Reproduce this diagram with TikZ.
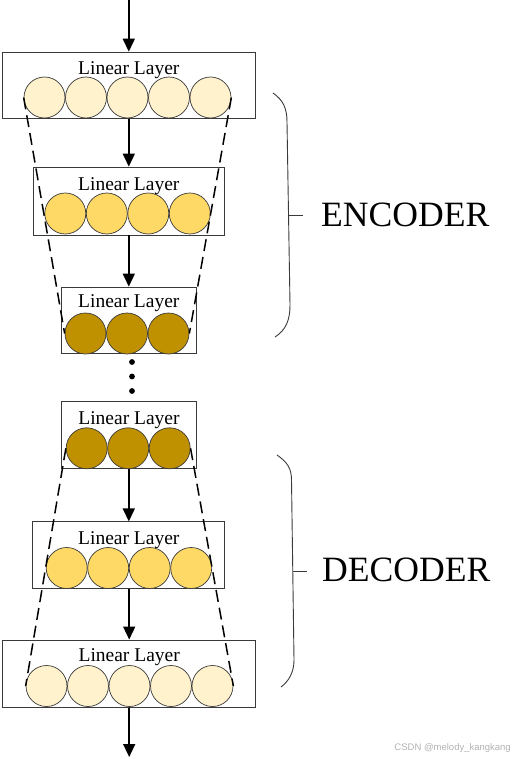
\documentclass[tikz,border=0pt]{standalone}
\usepackage{fontspec}
\setmainfont{Liberation Serif}
\newfontfamily\marksans{Liberation Sans}
\usetikzlibrary{positioning, arrows.meta, calc}

\definecolor{lightgold}{HTML}{FFF2CC}
\definecolor{midgold}{HTML}{FFD966}
\definecolor{darkgold}{HTML}{BF9000}
\definecolor{edgegray}{HTML}{3A3A3A}

\begin{document}
\begin{tikzpicture}[x=1pt, y=-1pt, node distance=41.5pt]
            % Define node styles
            \tikzstyle{layer} = [rectangle, draw=edgegray, line width=0.8pt, inner sep=0pt]
            \tikzstyle{light} = [circle, draw=edgegray, line width=0.7pt, minimum size=41pt, inner sep=0pt, fill=lightgold]
            \tikzstyle{mid} = [circle, draw=edgegray, line width=0.7pt, minimum size=41pt, inner sep=0pt, fill=midgold]
            \tikzstyle{dark} = [circle, draw=edgegray, line width=0.7pt, minimum size=41pt, inner sep=0pt, fill=darkgold]
            \tikzstyle{title} = [anchor=base, inner sep=0pt, font=\fontsize{19.5}{22}\selectfont]
            \tikzstyle{flow} = [-{Triangle[length=13pt, width=12pt]}, line width=1.6pt]
            \tikzstyle{trap} = [line width=1.5pt, dash pattern=on 12pt off 6pt]
            \tikzstyle{brace} = [edgegray, line width=0.9pt]

            \useasboundingbox (0,0) rectangle (515,759);

            % Layer boxes (encoder on top, decoder below)
            \node[layer, minimum width=253pt, minimum height=66.5pt] (box1) at (128.8,85.3) {};
            \node[layer, minimum width=191pt, minimum height=68pt] (box2) at (128.8,201) {};
            \node[layer, minimum width=135pt, minimum height=66pt] (box3) at (128.8,320) {};
            \node[layer, minimum width=135pt, minimum height=67pt] (box4) at (129,435.3) {};
            \node[layer, minimum width=192pt, minimum height=67pt] (box5) at (128.8,555.3) {};
            \node[layer, minimum width=253pt, minimum height=67.7pt] (box6) at (129.2,673.8) {};

            % Labels inside the boxes
            \node[title] (t1) at ([yshift=-23pt]box1.north) {Linear Layer};
            \node[title] (t2) at ([yshift=-24pt]box2.north) {Linear Layer};
            \node[title] (t3) at ([yshift=-21pt]box3.north) {Linear Layer};
            \node[title] (t4) at ([yshift=-23pt]box4.north) {Linear Layer};
            \node[title] (t5) at ([yshift=-23pt]box5.north) {Linear Layer};
            \node[title] (t6) at ([yshift=-22pt]box6.north) {Linear Layer};

            % Neurons of box 1 (light)
            \node[light] (a1) at (44.5,97.5) {};
            \node[light] (a2) [right of=a1] {};
            \node[light] (a3) [right of=a2] {};
            \node[light] (a4) [right of=a3] {};
            \node[light] (a5) [right of=a4] {};

            % Neurons of box 2 (mid)
            \node[mid] (b1) at (65.3,213.5) {};
            \node[mid] (b2) [right of=b1] {};
            \node[mid] (b3) [right of=b2] {};
            \node[mid] (b4) [right of=b3] {};

            % Neurons of box 3 (dark)
            \node[dark] (c1) at (85.5,333.5) {};
            \node[dark] (c2) [right of=c1] {};
            \node[dark] (c3) [right of=c2] {};

            % Neurons of box 4 (dark)
            \node[dark] (d1) at (86.7,448.3) {};
            \node[dark] (d2) [right of=d1] {};
            \node[dark] (d3) [right of=d2] {};

            % Neurons of box 5 (mid)
            \node[mid] (e1) at (66.7,568) {};
            \node[mid] (e2) [right of=e1] {};
            \node[mid] (e3) [right of=e2] {};
            \node[mid] (e4) [right of=e3] {};

            % Neurons of box 6 (light)
            \node[light] (f1) at (46.5,686) {};
            \node[light] (f2) [right of=f1] {};
            \node[light] (f3) [right of=f2] {};
            \node[light] (f4) [right of=f3] {};
            \node[light] (f5) [right of=f4] {};

            % Data flow
            \coordinate (in) at (128.8,0);
            \coordinate (out) at (129.2,757);
            \draw[flow] (in) -- (box1.north);
            \draw[flow] (box1.south -| box2.north) -- (box2.north);
            \draw[flow] (box2.south -| box3.north) -- (box3.north);
            \draw[flow] (box4.south -| box5.north) -- (box5.north);
            \draw[flow] (box5.south -| box6.north) -- (box6.north);
            \draw[flow] (box6.south) -- (out);

            % Dots between encoder and decoder
            \node[circle, fill=black, inner sep=0pt, minimum size=5.8pt] (dot1) at (132,362) {};
            \node[circle, fill=black, inner sep=0pt, minimum size=5.8pt] (dot2) at (132,376.5) {};
            \node[circle, fill=black, inner sep=0pt, minimum size=5.8pt] (dot3) at (132,391) {};

            % Dashed funnels
            \draw[trap] (a1.west) -- (c1.west);
            \draw[trap] (a5.east) -- (c3.east);
            \draw[trap] (d1.west) -- (f1.west);
            \draw[trap] (d3.east) -- (f5.east);

            % Braces with their labels
            \draw[brace] (273,93) .. controls (283,100) and (287,108) .. (287,122) -- (290,305) .. controls (290,320) and (286,330) .. (275,337);
            \draw[brace] (288,215) -- (303,215);
            \node[anchor=base west, inner sep=0pt, font=\fontsize{35.6}{40}\selectfont] (enc) at (321,226.7) {ENCODER};

            \draw[brace] (277,455) .. controls (287,462) and (291.5,468) .. (291.5,480) -- (294,660) .. controls (294,672) and (289,681) .. (281,687);
            \draw[brace] (293,571) -- (307,571);
            \node[anchor=base west, inner sep=0pt, font=\fontsize{35.6}{40}\selectfont] (dec) at (322,581.7) {DECODER};

            % Watermark
            \node[anchor=east, inner sep=0pt, text=black!30, font=\marksans\fontsize{9.5}{11}\selectfont] (mark) at (511,748) {CSDN @melody\_kangkang};

        \end{tikzpicture}
\end{document}
